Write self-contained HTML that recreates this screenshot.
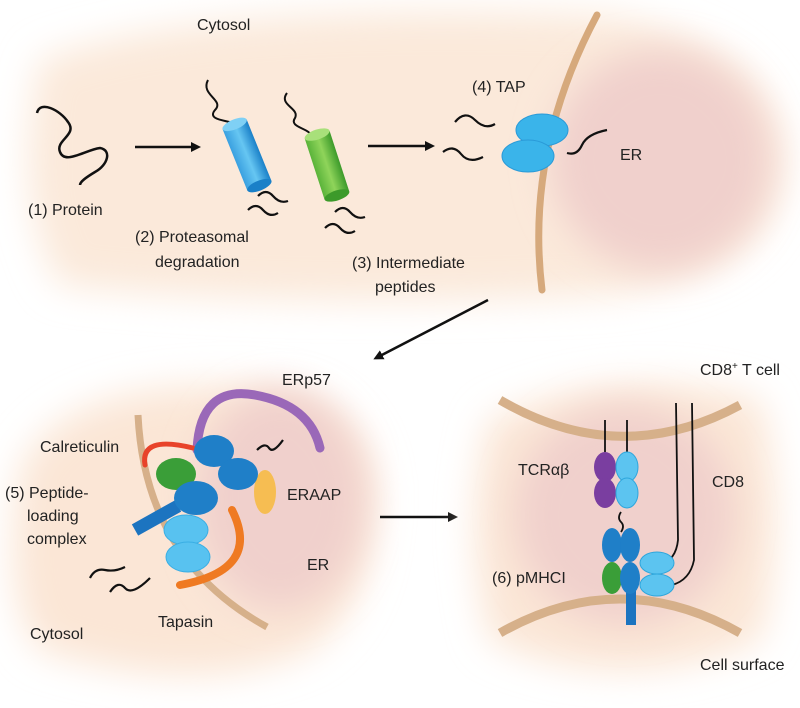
<!DOCTYPE html>
<html><head><meta charset="utf-8"><style>
body{margin:0;background:#fff}
svg{display:block}
text{font-family:"Liberation Sans",sans-serif;font-size:16px;fill:#222}
</style></head><body>
<svg width="800" height="708" viewBox="0 0 800 708">
<defs>
<filter id="b" x="-20%" y="-20%" width="140%" height="140%"><feGaussianBlur stdDeviation="18"/></filter>
<linearGradient id="cb" x1="0" x2="1"><stop offset="0" stop-color="#3aa0e0"/><stop offset="0.5" stop-color="#66c6f2"/><stop offset="1" stop-color="#1a80c8"/></linearGradient>
<linearGradient id="cg" x1="0" x2="1"><stop offset="0" stop-color="#5ab33a"/><stop offset="0.5" stop-color="#8fd45a"/><stop offset="1" stop-color="#3c9a2a"/></linearGradient>
<marker id="ah" markerWidth="10" markerHeight="10" refX="7" refY="5" orient="auto" markerUnits="userSpaceOnUse"><path d="M0,0 L10,5 L0,10 Z" fill="#111"/></marker>
</defs>
<path d="M40,60 Q200,0 600,15 Q780,40 785,160 Q780,280 600,295 Q300,310 60,285 Q10,200 40,60 Z" fill="#fbe9da" filter="url(#b)"/>
<ellipse cx="660" cy="160" rx="110" ry="110" fill="#f0d0cc" filter="url(#b)"/>
<path d="M597,15 Q525,150 542,290" stroke="#d6a97c" stroke-width="7" fill="none" stroke-linecap="round"/>
<text x="197" y="30">Cytosol</text>
<path d="M37,113 C40,100 60,110 68,122 C78,135 55,140 60,152 C65,165 85,150 100,148 C112,150 108,165 95,172 C85,178 80,182 80,185" stroke="#111" stroke-width="2.5" fill="none"/>
<text x="28" y="215">(1) Protein</text>
<line x1="135" y1="147" x2="198" y2="147" stroke="#111" stroke-width="2.5" marker-end="url(#ah)"/>
<path d="M208,80 C200,95 225,100 215,110 C205,122 235,120 235,125" stroke="#111" stroke-width="2" fill="none"/>
<path d="M287,93 C278,105 300,108 295,118 C288,128 312,128 311,137" stroke="#111" stroke-width="2" fill="none"/>
<g transform="translate(247,155) rotate(-22)"><rect x="-13" y="-33" width="26" height="66" fill="url(#cb)"/><ellipse cx="0" cy="-33" rx="13" ry="5" fill="#7fd0f5"/><ellipse cx="0" cy="33" rx="13" ry="5" fill="#1a80c8"/></g>
<g transform="translate(327,165) rotate(-18)"><rect x="-13" y="-32" width="26" height="64" fill="url(#cg)"/><ellipse cx="0" cy="-32" rx="13" ry="5" fill="#a8e07a"/><ellipse cx="0" cy="32" rx="13" ry="5" fill="#3c9a2a"/></g>
<g stroke="#111" stroke-width="2.2" fill="none">
<path d="M258,196 q8,-8 15,0 t15,5"/><path d="M248,210 q8,-8 15,0 t15,3"/>
<path d="M335,212 q8,-8 15,0 t15,5"/><path d="M325,228 q8,-8 15,0 t15,3"/>
<path d="M455,122 q10,-12 20,-2 t20,4"/><path d="M443,152 q10,-8 18,2 t22,3"/>
<path d="M567,153 q10,3 15,-8 t25,-15"/>
</g>
<text x="135" y="242">(2) Proteasomal</text>
<text x="155" y="267">degradation</text>
<line x1="368" y1="146" x2="432" y2="146" stroke="#111" stroke-width="2.5" marker-end="url(#ah)"/>
<text x="352" y="268">(3) Intermediate</text>
<text x="375" y="292">peptides</text>
<ellipse cx="542" cy="130" rx="26" ry="16" fill="#3ab4ea" stroke="#2a9ad8"/>
<ellipse cx="528" cy="156" rx="26" ry="16" fill="#3ab4ea" stroke="#2a9ad8"/>
<text x="472" y="92">(4) TAP</text>
<text x="620" y="160">ER</text>
<line x1="488" y1="300" x2="376" y2="358" stroke="#111" stroke-width="2.5" marker-end="url(#ah)"/>
<path d="M20,470 Q60,380 250,385 Q360,390 375,480 Q380,600 310,650 Q200,700 40,650 Q0,600 20,470 Z" fill="#fbe6d6" filter="url(#b)"/>
<ellipse cx="280" cy="500" rx="85" ry="110" fill="#f0d0cc" filter="url(#b)"/>
<path d="M138,415 Q145,560 267,627" stroke="#d6b08a" stroke-width="7" fill="none"/>
<path d="M197,450 Q200,385 255,395 Q310,405 320,448" stroke="#9a68b8" stroke-width="9" fill="none" stroke-linecap="round"/>
<text x="282" y="385">ERp57</text>
<path d="M145,465 Q140,435 193,448" stroke="#e8432a" stroke-width="5" fill="none" stroke-linecap="round"/>
<text x="40" y="452">Calreticulin</text>
<path d="M232,510 Q262,570 180,585" stroke="#ef7a22" stroke-width="8" fill="none" stroke-linecap="round"/>
<ellipse cx="265" cy="492" rx="11" ry="22" fill="#f6bd52"/>
<text x="287" y="500">ERAAP</text>
<line x1="135" y1="530" x2="178" y2="506" stroke="#1c74c0" stroke-width="13"/>
<ellipse cx="176" cy="474" rx="20" ry="16" fill="#3a9e38"/>
<ellipse cx="214" cy="451" rx="20" ry="16" fill="#1f7fc8"/>
<ellipse cx="238" cy="474" rx="20" ry="16" fill="#1f7fc8"/>
<ellipse cx="196" cy="498" rx="22" ry="17" fill="#1f7fc8"/>
<ellipse cx="186" cy="530" rx="22" ry="15" fill="#58c2f0" stroke="#3aaee4"/>
<ellipse cx="188" cy="557" rx="22" ry="15" fill="#58c2f0" stroke="#3aaee4"/>
<g stroke="#111" stroke-width="2.2" fill="none">
<path d="M257,450 q8,-8 12,-2 t14,-8"/>
<path d="M90,578 q5,-10 15,-8 t20,-3"/><path d="M110,592 q8,-12 15,-4 t25,-10"/>
</g>
<text x="5" y="498">(5) Peptide-</text>
<text x="27" y="521">loading</text>
<text x="27" y="544">complex</text>
<text x="307" y="570">ER</text>
<text x="158" y="627">Tapasin</text>
<text x="30" y="639">Cytosol</text>
<line x1="380" y1="517" x2="455" y2="517" stroke="#111" stroke-width="2.5" marker-end="url(#ah)"/>
<path d="M490,420 Q620,360 760,400 Q790,520 760,640 Q620,700 490,640 Q460,520 490,420 Z" fill="#fbe6d6" filter="url(#b)"/>
<ellipse cx="625" cy="515" rx="110" ry="110" fill="#f0d0cc" filter="url(#b)"/>
<path d="M500,400 Q620,470 740,405" stroke="#d6b08a" stroke-width="9" fill="none"/>
<path d="M500,633 Q620,565 740,633" stroke="#d6b08a" stroke-width="9" fill="none"/>
<g stroke="#111" stroke-width="1.8" fill="none">
<line x1="605" y1="420" x2="605" y2="452"/><line x1="627" y1="420" x2="627" y2="452"/>
<path d="M676,403 L678,540 Q676,560 660,565"/><path d="M692,403 L694,560 Q690,580 672,585"/>
<path d="M621,512 q-4,6 0,10 t0,10"/>
</g>
<ellipse cx="605" cy="467" rx="11" ry="15" fill="#7a3ea0"/>
<ellipse cx="605" cy="493" rx="11" ry="15" fill="#7a3ea0"/>
<ellipse cx="627" cy="467" rx="11" ry="15" fill="#5cc4f0" stroke="#2ea6dc"/>
<ellipse cx="627" cy="493" rx="11" ry="15" fill="#5cc4f0" stroke="#2ea6dc"/>
<text x="518" y="475">TCRαβ</text>
<text x="712" y="487">CD8</text>
<text x="700" y="375">CD8<tspan dy="-6" font-size="10">+</tspan><tspan dy="6"> T cell</tspan></text>
<rect x="626" y="585" width="10" height="40" fill="#1c74c0"/>
<ellipse cx="612" cy="545" rx="10" ry="17" fill="#1f7fc8"/>
<ellipse cx="630" cy="545" rx="10" ry="17" fill="#1f7fc8"/>
<ellipse cx="612" cy="578" rx="10" ry="16" fill="#3a9e38"/>
<ellipse cx="630" cy="578" rx="10" ry="16" fill="#1f7fc8"/>
<ellipse cx="657" cy="563" rx="17" ry="11" fill="#5cc4f0" stroke="#2ea6dc"/>
<ellipse cx="657" cy="585" rx="17" ry="11" fill="#5cc4f0" stroke="#2ea6dc"/>
<text x="492" y="583">(6) pMHCI</text>
<text x="700" y="670">Cell surface</text>
</svg>
</body></html>
